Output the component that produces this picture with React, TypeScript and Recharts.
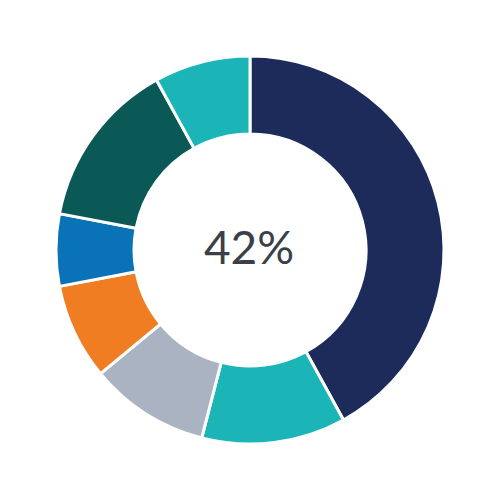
import React from 'react';
import { PieChart, Pie, Cell } from 'recharts';

const segments = ['Navy', 'Teal', 'Gray', 'Orange', 'Blue', 'Dark Teal', 'Light Teal'];
const shares = [42, 12, 10, 8, 6, 14, 8];
const colors = ['#1c2b5a', '#1bb5b8', '#a9b3c1', '#f07d22', '#0a72b6', '#0b5957', '#1bb5b8'];
const centerLabel = '42%';

const data = segments.map((name, i) => ({ name, value: shares[i] }));

export default function App() {
  return (
    <div style={{ position: 'absolute', left: 0, top: 0, width: 500, height: 500, background: '#fff' }}>
      <PieChart width={500} height={500} margin={{ top: 0, right: 0, bottom: 0, left: 0 }}>
        <Pie
          data={data}
          dataKey="value"
          cx={250}
          cy={250}
          innerRadius={116}
          outerRadius={194}
          startAngle={90}
          endAngle={-270}
          stroke="#ffffff"
          strokeWidth={3}
          isAnimationActive={false}
        >
          {data.map((d, i) => (
            <Cell key={d.name} fill={colors[i]} />
          ))}
        </Pie>
        <text
          x={249}
          y={246}
          textAnchor="middle"
          dominantBaseline="central"
          style={{ fontFamily: 'Lato, sans-serif', fontWeight: 400, fontSize: 46, fill: '#3b4048' }}
        >
          {centerLabel}
        </text>
      </PieChart>
    </div>
  );
}
